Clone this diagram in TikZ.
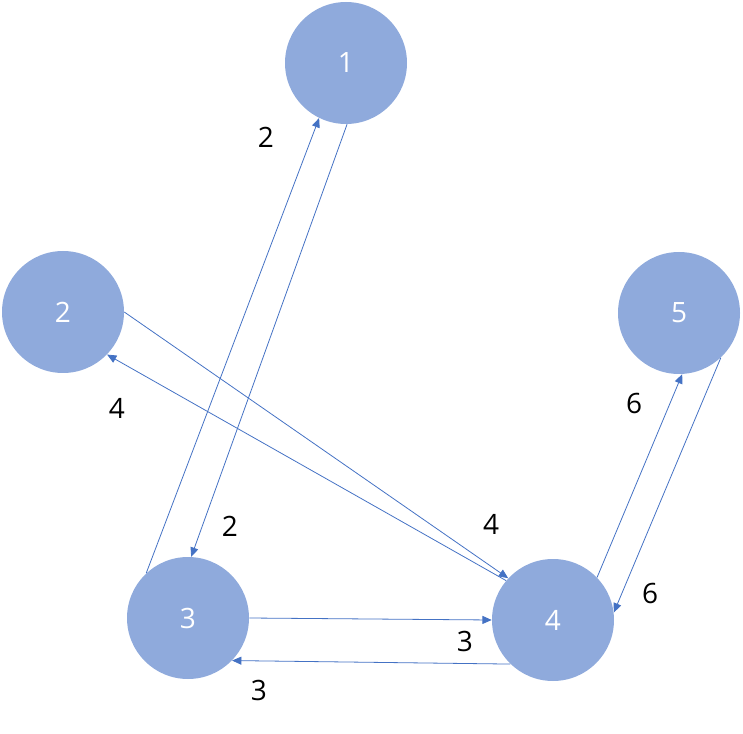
\documentclass[tikz,border=0pt]{standalone}
\usepackage{fontspec}
\setmainfont{Open Sans}
\usetikzlibrary{arrows.meta}
\definecolor{nfill}{HTML}{8FAADC}
\definecolor{lcol}{HTML}{4472C4}
\begin{document}
\begin{tikzpicture}[x=0.75pt,y=-0.75pt,
  vtx/.style={circle,fill=nfill,minimum size=91.5pt,inner sep=0pt,text=white,font=\fontsize{21}{24}\selectfont},
  edge/.style={draw=lcol,line width=0.6pt,-{Triangle[width=6pt,length=7pt]}},
  lbl/.style={font=\fontsize{21}{24}\selectfont}]
\useasboundingbox (0,0) rectangle (743,734);
\node[vtx] (n1) at (346,63) {1};
\node[vtx] (n2) at (63,312) {2};
\node[vtx] (n3) at (188,618) {3};
\node[vtx] (n4) at (553,620) {4};
\node[vtx] (n5) at (679,313) {5};
\draw[edge] (n3.133) -- (n1.244);
\draw[edge] (n1.271) -- (n3.87);
\draw[edge] (n2.0) -- (n4.137);
\draw[edge] (n4.140) -- (n2.316);
\draw[edge] (n3.0) -- (n4.180);
\draw[edge] (n4.226) -- (n3.316);
\draw[edge] (n4.44) -- (n5.273);
\draw[edge] (n5.313) -- (n4.7);
\node[lbl] (l1) at (266,137) {2};
\node[lbl] (l2) at (230,526) {2};
\node[lbl] (l3) at (117,408) {4};
\node[lbl] (l4) at (491,524) {4};
\node[lbl] (l5) at (465,641) {3};
\node[lbl] (l6) at (259,690) {3};
\node[lbl] (l7) at (634,403) {6};
\node[lbl] (l8) at (650,593) {6};
\end{tikzpicture}
\end{document}
